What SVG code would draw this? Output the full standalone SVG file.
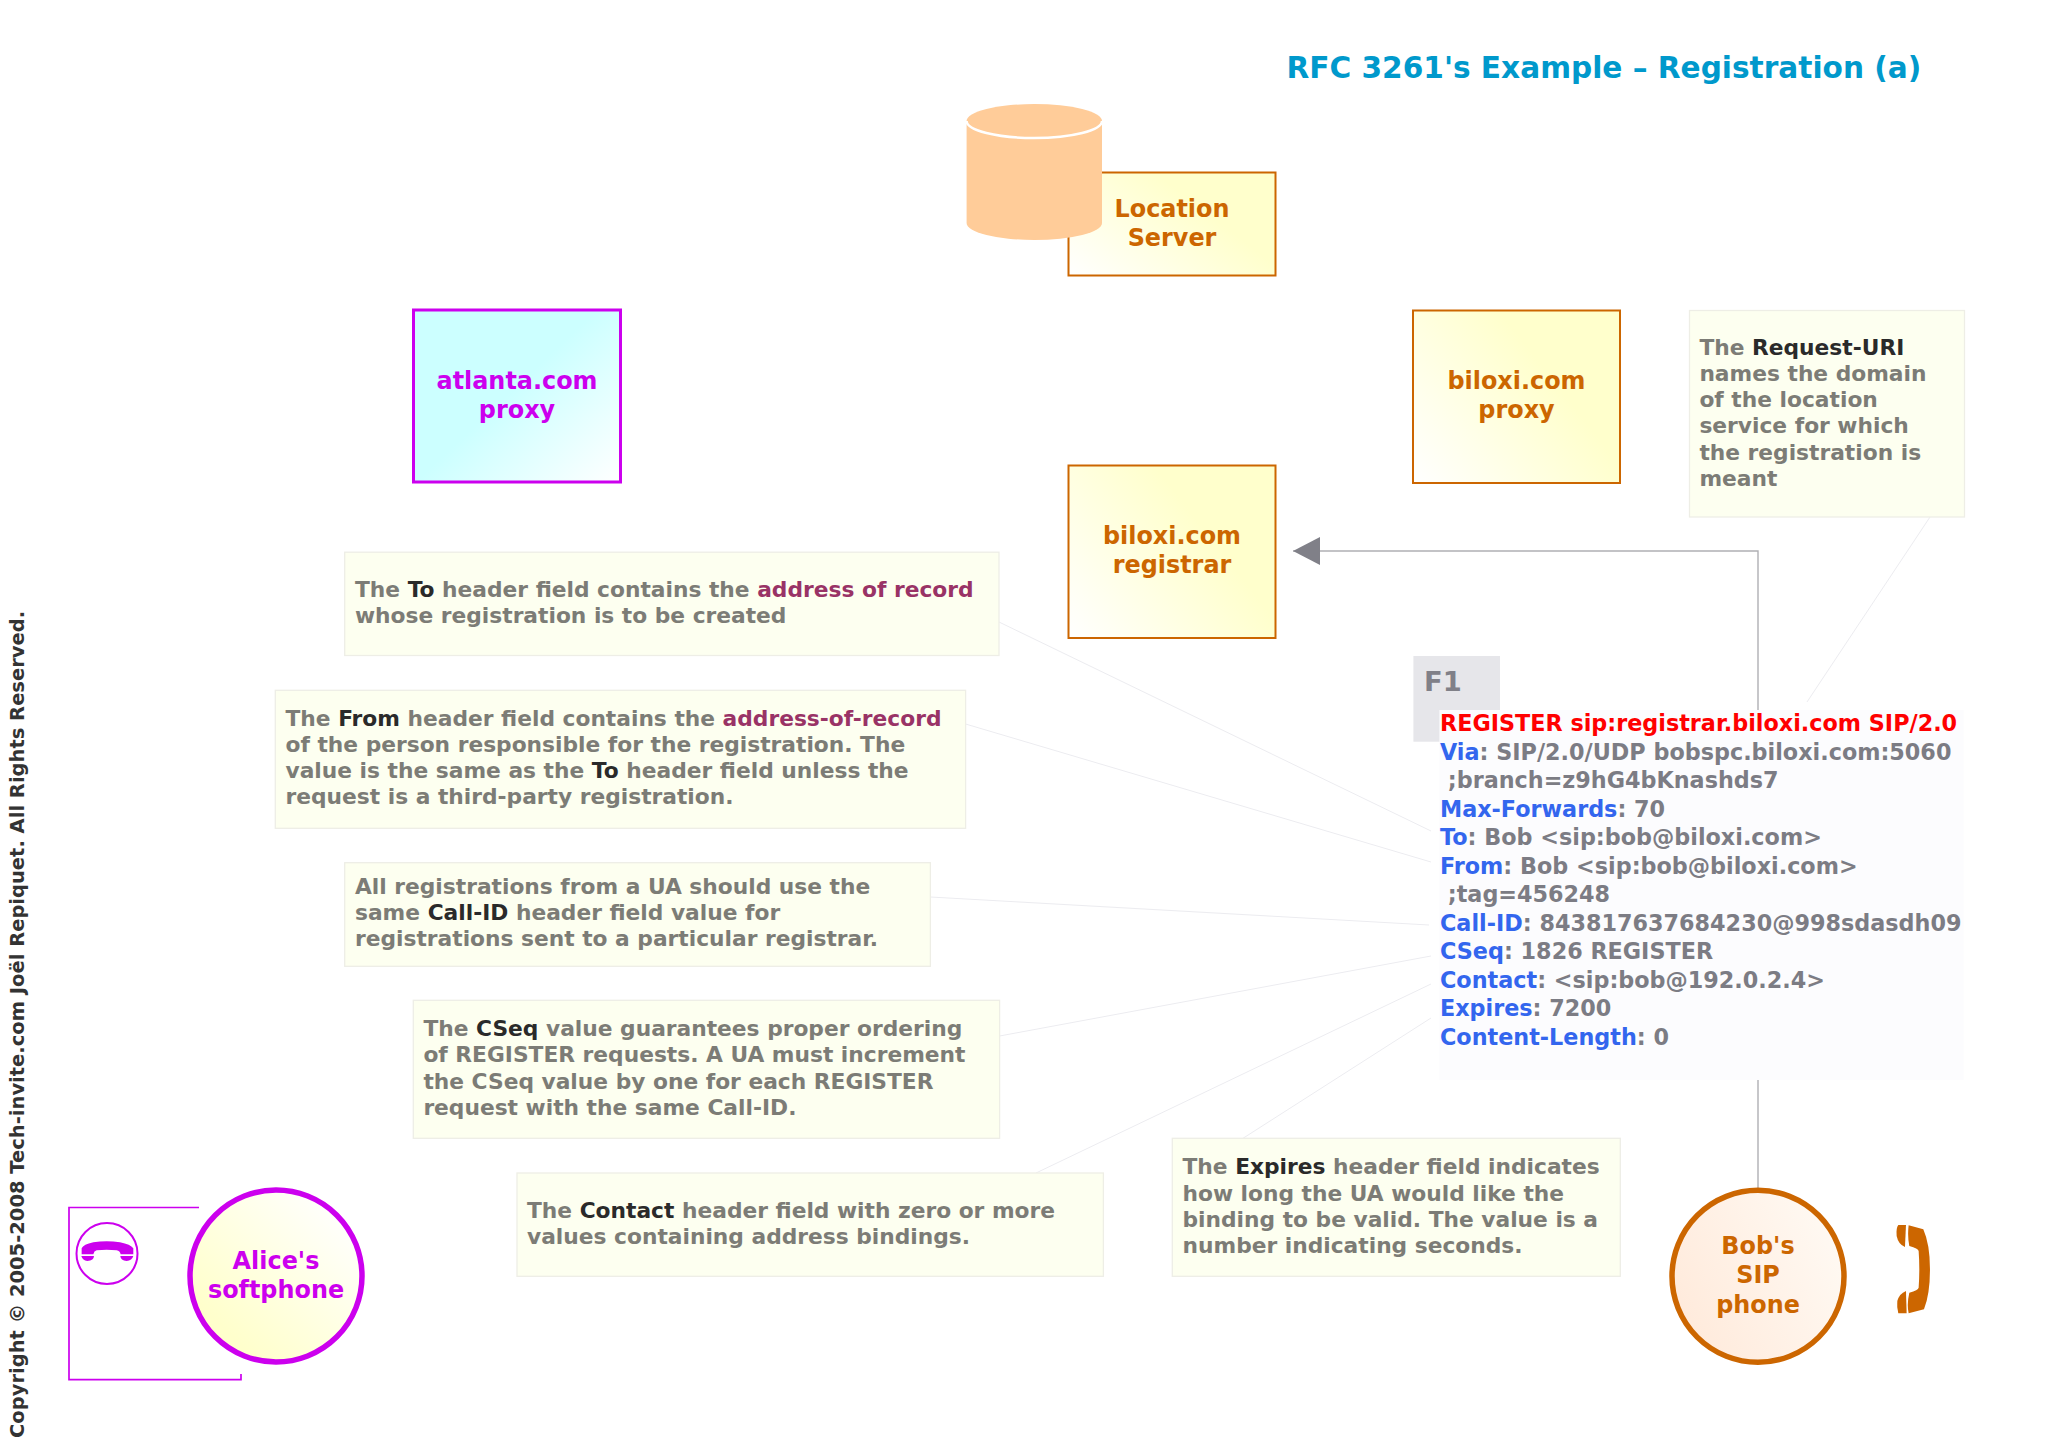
<svg xmlns="http://www.w3.org/2000/svg" width="2048" height="1447" viewBox="0 0 2048 1447">
<style>
text{font-family:"DejaVu Sans",Verdana,sans-serif;font-weight:bold}
.node{font-size:23.9px;text-anchor:middle}
.or{fill:#cc6600}
.pu{fill:#cc00ee}
.box{stroke:#cc6600;stroke-width:2;fill:url(#yel)}
.note{fill:#fdfff0;stroke:#eeeee6;stroke-width:1.3}
.nt{font-size:21.75px;fill:#7c7c76}
.k{fill:#2a2a2a}
.m{fill:#993366}
.lead{fill:none;stroke:#ececf0;stroke-width:1}
.msg{font-size:22.3px;fill:#7c7c84}
.h{fill:#3366ee}
</style>
<defs>
<linearGradient id="yel" x1="0" y1="1" x2="1" y2="0.35"><stop offset="0" stop-color="#ffffff"/><stop offset="0.75" stop-color="#ffffcc"/></linearGradient>
<linearGradient id="cy" x1="1" y1="1" x2="0.2" y2="0.3"><stop offset="0" stop-color="#ffffff"/><stop offset="0.7" stop-color="#ccffff"/></linearGradient>
<linearGradient id="ay" x1="1" y1="0" x2="0" y2="1"><stop offset="0.1" stop-color="#ffffff"/><stop offset="0.8" stop-color="#ffffcc"/></linearGradient>
<linearGradient id="bp" x1="1" y1="0.2" x2="0" y2="0.7"><stop offset="0" stop-color="#fffaf4"/><stop offset="1" stop-color="#ffeadb"/></linearGradient>
<marker id="arr" markerUnits="userSpaceOnUse" markerWidth="28" markerHeight="28" refX="27" refY="14" orient="auto"><polygon points="0,0 27,14 0,28" fill="#808088"/></marker>
</defs>
<rect width="2048" height="1447" fill="#ffffff"/>
<text id="title" x="1286.5" y="78" font-size="29.6px" fill="#0099cc">RFC 3261's Example – Registration (a)</text>
<text id="copyright" transform="translate(24,1438) rotate(-90)" font-size="19.5px" fill="#333333">Copyright © 2005-2008 Tech-invite.com Joël Repiquet. All Rights Reserved.</text>

<g id="connectors">
<polyline points="1758,1188 1758,551 1293,551" fill="none" stroke="#b0b0b4" stroke-width="1.4" marker-end="url(#arr)"/>
<line class="lead" x1="1930" y1="517" x2="1807" y2="702"/>
<line class="lead" x1="999" y1="622" x2="1431" y2="831"/>
<line class="lead" x1="965.6" y1="724" x2="1431" y2="862"/>
<line class="lead" x1="930.4" y1="897" x2="1429" y2="925"/>
<line class="lead" x1="999.6" y1="1036" x2="1431" y2="956"/>
<line class="lead" x1="1036" y1="1173" x2="1431" y2="984"/>
<line class="lead" x1="1243" y1="1138.3" x2="1431" y2="1018"/>
</g>

<g id="location-server">
<rect class="box" x="1068.5" y="172.5" width="207" height="103"/>
<text class="node or"><tspan x="1172" y="216.8">Location</tspan><tspan x="1172" y="246.2">Server</tspan></text>
<path d="M966.6 121V223A67.7 17 0 0 0 1102 223V121Z" fill="#ffcc99"/>
<ellipse cx="1034.3" cy="121" rx="67.7" ry="17" fill="#ffcc99"/>
<path d="M966.6 121A67.7 17 0 0 0 1102 121" fill="none" stroke="#ffffff" stroke-width="2.5"/>
</g>

<g id="atlanta-proxy">
<rect x="413.5" y="310" width="207" height="172" fill="url(#cy)" stroke="#cc00ee" stroke-width="3"/>
<text class="node pu"><tspan x="517" y="388.7">atlanta.com</tspan><tspan x="517" y="418">proxy</tspan></text>
</g>
<g id="biloxi-proxy">
<rect class="box" x="1413" y="310.5" width="207" height="172.5"/>
<text class="node or"><tspan x="1516.5" y="389.3">biloxi.com</tspan><tspan x="1516.5" y="418.3">proxy</tspan></text>
</g>
<g id="biloxi-registrar">
<rect class="box" x="1068.5" y="465.5" width="207" height="172.5"/>
<text class="node or"><tspan x="1172" y="544.2">biloxi.com</tspan><tspan x="1172" y="573.2">registrar</tspan></text>
</g>

<g id="note-request-uri">
<rect class="note" x="1689.5" y="310.5" width="275" height="206.5"/>
<text class="nt"><tspan x="1699.4" y="354.8">The <tspan class="k">Request-URI</tspan></tspan><tspan x="1699.4" y="381">names the domain</tspan><tspan x="1699.4" y="407.2">of the location</tspan><tspan x="1699.4" y="433.4">service for which</tspan><tspan x="1699.4" y="459.6">the registration is</tspan><tspan x="1699.4" y="485.8">meant</tspan></text>
</g>
<g id="note-to">
<rect class="note" x="344.7" y="552.2" width="654.3" height="103.3"/>
<text class="nt"><tspan x="355" y="597">The <tspan class="k">To</tspan> header field contains the <tspan class="m">address of record</tspan></tspan><tspan x="355" y="623.3">whose registration is to be created</tspan></text>
</g>
<g id="note-from" transform="translate(0,1)">
<rect class="note" x="275.3" y="689.3" width="690.3" height="138"/>
<text class="nt"><tspan x="285.5" y="724.7">The <tspan class="k">From</tspan> header field contains the <tspan class="m">address-of-record</tspan></tspan><tspan x="285.5" y="751">of the person responsible for the registration. The</tspan><tspan x="285.5" y="777.2">value is the same as the <tspan class="k">To</tspan> header field unless the</tspan><tspan x="285.5" y="803.4">request is a third-party registration.</tspan></text>
</g>
<g id="note-call-id" transform="translate(0,1)">
<rect class="note" x="344.7" y="861.7" width="585.7" height="103.6"/>
<text class="nt"><tspan x="355" y="893">All registrations from a UA should use the</tspan><tspan x="355" y="919.2">same <tspan class="k">Call-ID</tspan> header field value for</tspan><tspan x="355" y="945.4">registrations sent to a particular registrar.</tspan></text>
</g>
<g id="note-cseq" transform="translate(0,1)">
<rect class="note" x="413.3" y="999.3" width="586.3" height="138"/>
<text class="nt"><tspan x="423.4" y="1035">The <tspan class="k">CSeq</tspan> value guarantees proper ordering</tspan><tspan x="423.4" y="1061.3">of REGISTER requests. A UA must increment</tspan><tspan x="423.4" y="1087.5">the CSeq value by one for each REGISTER</tspan><tspan x="423.4" y="1113.7">request with the same Call-ID.</tspan></text>
</g>
<g id="note-contact" transform="translate(0,1)">
<rect class="note" x="517" y="1172" width="586.4" height="103.3"/>
<text class="nt"><tspan x="527" y="1216.7">The <tspan class="k">Contact</tspan> header field with zero or more</tspan><tspan x="527" y="1243">values containing address bindings.</tspan></text>
</g>
<g id="note-expires" transform="translate(0,1)">
<rect class="note" x="1172.3" y="1137.3" width="448" height="138"/>
<text class="nt"><tspan x="1182.5" y="1173.3">The <tspan class="k">Expires</tspan> header field indicates</tspan><tspan x="1182.5" y="1199.6">how long the UA would like the</tspan><tspan x="1182.5" y="1225.8">binding to be valid. The value is a</tspan><tspan x="1182.5" y="1252">number indicating seconds.</tspan></text>
</g>

<g id="message-f1" transform="translate(0,1)">
<rect x="1413.4" y="655" width="86.6" height="85.7" fill="#e6e6ea"/>
<text x="1424" y="690" font-size="27.4px" fill="#808088">F1</text>
<rect x="1439.4" y="709" width="524.3" height="370" fill="#fcfcfe"/>
<text class="msg"><tspan x="1440" y="730.3" fill="#ff0000">REGISTER sip:registrar.biloxi.com SIP/2.0</tspan><tspan x="1440" y="758.8"><tspan class="h">Via</tspan>: SIP/2.0/UDP bobspc.biloxi.com:5060</tspan><tspan x="1440" y="787.3"> ;branch=z9hG4bKnashds7</tspan><tspan x="1440" y="815.8"><tspan class="h">Max-Forwards</tspan>: 70</tspan><tspan x="1440" y="844.3"><tspan class="h">To</tspan>: Bob &lt;sip:bob@biloxi.com&gt;</tspan><tspan x="1440" y="872.8"><tspan class="h">From</tspan>: Bob &lt;sip:bob@biloxi.com&gt;</tspan><tspan x="1440" y="901.3"> ;tag=456248</tspan><tspan x="1440" y="929.8"><tspan class="h">Call-ID</tspan>: 843817637684230@998sdasdh09</tspan><tspan x="1440" y="958.3"><tspan class="h">CSeq</tspan>: 1826 REGISTER</tspan><tspan x="1440" y="986.8"><tspan class="h">Contact</tspan>: &lt;sip:bob@192.0.2.4&gt;</tspan><tspan x="1440" y="1015.3"><tspan class="h">Expires</tspan>: 7200</tspan><tspan x="1440" y="1043.8"><tspan class="h">Content-Length</tspan>: 0</tspan></text>
</g>

<g id="alice-softphone" transform="translate(0,1)">
<polyline points="199,1206.5 69,1206.5 69,1378.7 241,1378.7 241,1373" fill="none" stroke="#cc00ee" stroke-width="1.7"/>
<circle cx="107" cy="1252.5" r="30.5" fill="#ffffff" stroke="#cc00ee" stroke-width="2"/>
<g transform="translate(0,1150) scale(0.3333)" fill="#cc00ee">
<path d="M245 310V292Q250 280 280 274Q320 268 360 274Q392 280 400 292V310H362Q360 300 350 298Q320 294 290 298Q282 300 280 310Z"/>
<path d="M244 315H282Q282 328 262 330Q248 328 244 315Z"/>
<path d="M361 315H400Q396 328 380 330Q362 328 361 315Z"/>
</g>
<circle cx="276" cy="1275" r="86" fill="url(#ay)" stroke="#cc00ee" stroke-width="5.5"/>
<text class="node pu"><tspan x="276" y="1267.7">Alice's</tspan><tspan x="276" y="1297">softphone</tspan></text>
</g>

<g id="bob-sip-phone" transform="translate(0,1)">
<circle cx="1758" cy="1275.3" r="86" fill="url(#bp)" stroke="#cc6600" stroke-width="5.5"/>
<text class="node or"><tspan x="1758" y="1252.7">Bob's</tspan><tspan x="1758" y="1282.3">SIP</tspan><tspan x="1758" y="1311.7">phone</tspan></text>
<g transform="translate(1650,1160) scale(0.3333)" fill="#cc6600">
<path d="M776 193L820 205Q840 250 840 325Q840 400 822 445L776 457Q770 430 778 395Q805 388 806 380Q810 325 806 270Q805 262 778 255Q772 225 776 193Z"/>
<path d="M768 192L765 258Q745 250 740 225Q738 200 745 192Z"/>
<path d="M768 390L770 457H745Q740 440 742 420Q748 398 768 390Z"/>
</g>
</g>
</svg>
